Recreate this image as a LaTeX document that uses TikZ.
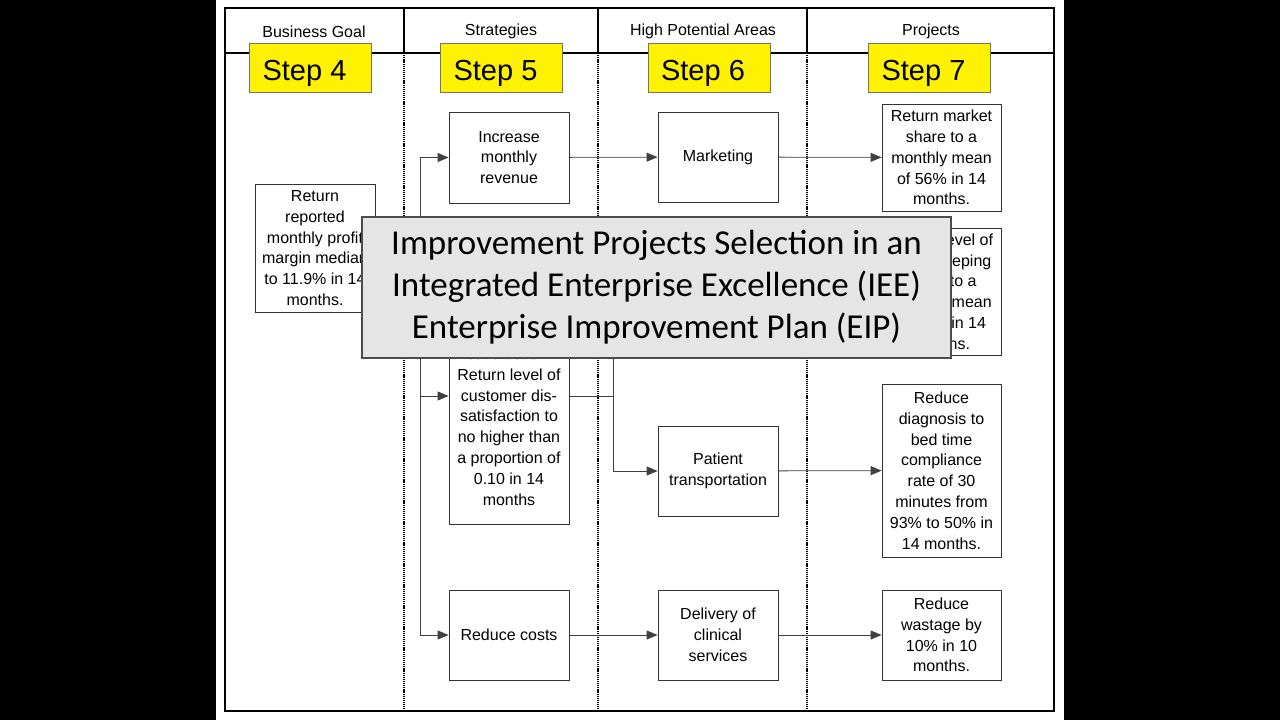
\documentclass[tikz,border=0pt]{standalone}
\usepackage{fontspec}
\setmainfont{Liberation Sans}
\newfontfamily\calibri{Carlito}
\usetikzlibrary{arrows.meta}

\newcommand{\steptext}[1]{\raisebox{0pt}[25pt][0pt]{Step #1}\kern12pt}

\begin{document}
\begin{tikzpicture}[x=1pt,y=-1pt,
	box/.style={draw=black!80,fill=white,line width=0.8pt,align=center,inner sep=0pt,font=\fontsize{16}{20.8}\selectfont},
	stepbox/.style={draw=black!55,fill=yellow,line width=0.8pt,minimum width=122pt,minimum height=49pt,inner sep=0pt,font=\fontsize{29}{34}\selectfont},
	head/.style={font=\fontsize{16}{19}\selectfont},
	wire/.style={draw=black!75,line width=0.8pt},
	link/.style={wire,-{Triangle[length=11pt,width=9pt]}},
	lane/.style={line width=1.3pt,dash pattern=on 1.2pt off 0.9pt}]
	
	\fill[black] (0,0) rectangle (1280,720);
	\useasboundingbox (0,0) rectangle (1280,720);
	\fill[white] (216,0) rectangle (1064,720);
	
	% swim lanes
	\draw[line width=2pt] (225,8) rectangle (1054,711);
	\draw[line width=1.3pt] (225,53) -- (1054,53);
	\foreach \x in {404,598,807}
	{
		\draw[line width=1.3pt] (\x,8) -- (\x,53);
		\draw[lane] (\x,53) -- (\x,711);
	}
	
	\foreach \x/\t in {314/Business Goal, 501/Strategies, 703/High Potential Areas, 931/Projects}
		\node[head] at (\x,31.5) {\t};
	
	\node[stepbox] (step4) at (310.5,67.5) {\steptext{4}};
	\node[stepbox] (step5) at (501.5,67.5) {\steptext{5}};
	\node[stepbox] (step6) at (709,67.5) {\steptext{6}};
	\node[stepbox] (step7) at (929.5,67.5) {\steptext{7}};
	
	% boxes
	\node[box,minimum width=120pt,minimum height=128pt] (goal) at (315,248) {Return\\reported\\monthly profit\\margin median\\to 11.9\% in 14\\months.};
	
	\node[box,minimum width=120pt,minimum height=91pt] (incr) at (509,157.5) {Increase\\monthly\\revenue};
	\node[box,minimum width=120pt,minimum height=236pt] (satis) at (509,406) {Improve\\customer\\satisfaction:\\Return level of\\customer dis-\\satisfaction to\\no higher than\\a proportion of\\0.10 in 14\\months};
	\node[box,minimum width=120pt,minimum height=90pt] (costs) at (509,635) {Reduce costs};
	
	\node[box,minimum width=120pt,minimum height=90pt] (mkt) at (718,157) {Marketing};
	\node[box,minimum width=120pt,minimum height=90pt] (patient) at (718,471) {Patient\\transportation};
	\node[box,minimum width=120pt,minimum height=90pt] (clinic) at (718,635) {Delivery of\\clinical\\services};
	
	\node[box,minimum width=119pt,minimum height=107pt] (share) at (941.5,157.5) {Return market\\share to a\\monthly mean\\of 56\% in 14\\months.};
	\node[box,minimum width=119pt,minimum height=127pt] (house) at (941.5,291.5) {Return level of\\housekeeping\\score to a\\monthly mean\\of 80\% in 14\\months.};
	\node[box,minimum width=119pt,minimum height=173pt] (diag) at (941.5,470.5) {Reduce\\diagnosis to\\bed time\\compliance\\rate of 30\\minutes from\\93\% to 50\% in\\14 months.};
	\node[box,minimum width=119pt,minimum height=90pt] (waste) at (941.5,635) {Reduce\\wastage by\\10\% in 10\\months.};
	
	% connectors
	\coordinate (trunk) at (420,247);
	\coordinate (split) at (613,396);
	\coordinate (splittop) at (613,300);
	\draw[wire] (goal.east) -- (trunk);
	\draw[link] (trunk) |- (incr.west);
	\draw[link] (trunk) |- (costs.west);
	\draw[link] (trunk |- split) -- (satis.west |- split);
	\draw[wire] (satis.east |- split) -- (split) -- (splittop);
	\draw[link] (split) |- (patient.west);
	
	\draw[link] (incr) -- (mkt);
	\draw[link] (mkt) -- (share);
	\draw[link] (patient) -- (diag);
	\draw[link] (costs) -- (clinic);
	\draw[link] (clinic) -- (waste);
	
	% title banner
	\node[draw=black!70,fill=black!10,line width=1.8pt,minimum width=589pt,minimum height=141pt,inner sep=0pt,align=center,
		font=\calibri\fontsize{35}{42}\selectfont] (title) at (656.5,287.5)
		{Improvement Projects Selection in an\\Integrated Enterprise Excellence (IEE)\\Enterprise Improvement Plan (EIP)};
	
\end{tikzpicture}
\end{document}
